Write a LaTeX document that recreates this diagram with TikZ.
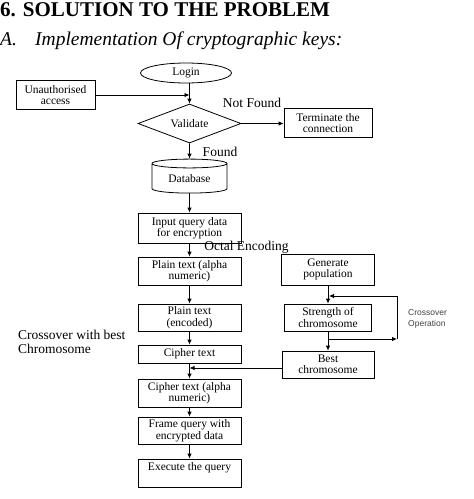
\documentclass[tikz,border=0pt]{standalone}
\usepackage{fontspec}
\setmainfont{Liberation Serif}
\setsansfont{Liberation Sans}
\usetikzlibrary{shapes.geometric,arrows.meta}

\tikzset{
  box/.style={draw, thick, rectangle, align=center, inner sep=1pt,
    font=\fontsize{11.5}{11.5}\selectfont},
  flow/.style={thick, -{Latex[length=5pt,width=4.5pt]}},
  lbl/.style={inner sep=0pt, font=\fontsize{13.5}{14}\selectfont},
}

\begin{document}
\begin{tikzpicture}[x=1pt,y=-1pt]
		\useasboundingbox (0,0) rectangle (474,499);

		% heading
		\node[anchor=base west, inner sep=0pt, font=\bfseries\fontsize{21}{21}\selectfont] (title) at (0,16) {6. SOLUTION TO THE PROBLEM};
		\node[anchor=base west, inner sep=0pt, font=\itshape\fontsize{19.5}{20}\selectfont] (secA) at (0,45) {A.};
		\node[anchor=base west, inner sep=0pt, font=\itshape\fontsize{19.5}{20}\selectfont] (sectitle) at (35,45) {Implementation Of cryptographic keys:};

		% main column
		\node[box, ellipse, minimum width=91pt, minimum height=20pt] (login) at (186,73) {Login};
		\node[box, minimum width=79pt, minimum height=29pt] (unauth) at (55.5,95) {Unauthorised\\access};
		\node[box, diamond, aspect=2.6, inner sep=0pt, minimum width=103pt, minimum height=39pt] (validate) at (189.5,123.5) {Validate};
		\node[box, minimum width=88pt, minimum height=29pt] (term) at (328,123) {Terminate the\\connection};
		\node[box, cylinder, shape border rotate=90, aspect=0.2, minimum width=75pt, minimum height=34pt] (db) at (189.5,179) {Database};

		\node[box, minimum width=103pt, minimum height=30pt] (input) at (189.5,228) {Input query data\\for encryption};
		\node[box, minimum width=103pt, minimum height=28pt] (plainA) at (189.5,271) {Plain text (alpha\\numeric)};
		\node[box, minimum width=103pt, minimum height=27pt] (plainE) at (189.5,317.5) {Plain text\\(encoded)};
		\node[box, minimum width=103pt, minimum height=18pt] (cipher) at (189.5,354) {Cipher text};
		\node[box, minimum width=103pt, minimum height=28pt] (cipherA) at (189.5,393) {Cipher text (alpha\\numeric)};
		\node[box, minimum width=103pt, minimum height=27pt] (frame) at (189.5,430.5) {Frame query with\\encrypted data};
		\node[box, text depth=12pt, minimum width=103pt, minimum height=28pt] (exec) at (189.5,473) {Execute the query};

		% genetic side
		\node[box, minimum width=93pt, minimum height=31pt] (gen) at (328,269.5) {Generate\\population};
		\node[box, minimum width=87pt, minimum height=27pt] (strength) at (328,317.5) {Strength of\\chromosome};
		\node[box, minimum width=92pt, minimum height=27pt] (best) at (328,364.5) {Best\\chromosome};

		% labels
		\node[lbl] (notfound) at (252,103) {Not Found};
		\node[lbl] (found) at (220,152) {Found};
		\node[lbl] (octal) at (246.5,247) {Octal Encoding};
		\node[lbl, anchor=west, align=left] (crossbest) at (18,342) {Crossover with best\\Chromosome};
		\node[anchor=west, align=left, inner sep=0pt, text=black!75, font=\sffamily\fontsize{8.5}{11}\selectfont] (crossop) at (408,318.5) {Crossover\\Operation};

		\coordinate (merge) at (189.5,368);
		\coordinate (loopin) at (328,339);
		\coordinate (loopend) at (397,339);
		\coordinate (loopout) at (329,296);

		\draw[flow] (login.south -| validate.north) -- (validate.north);
		\draw[flow] (unauth.east) -- (unauth.east -| validate.north);
		\draw[flow] (validate.east) -- (validate.east -| term.west);
		\draw[flow] (validate.south) -- (db.north);
		\draw[flow] (db.south) -- (input.north);

		\foreach \a/\b in {input/plainA, plainA/plainE, plainE/cipher, cipher/cipherA, cipherA/frame, frame/exec, gen/strength, strength/best}{
				\draw[flow] (\a.south) -- (\b.north);
			}

		\draw[flow] (best.west |- merge) -- (merge);
		\draw[flow] (loopin) -- (loopend);
		\draw[flow] (loopend) -- (loopend |- loopout) -- (loopout);
	\end{tikzpicture}
\end{document}
